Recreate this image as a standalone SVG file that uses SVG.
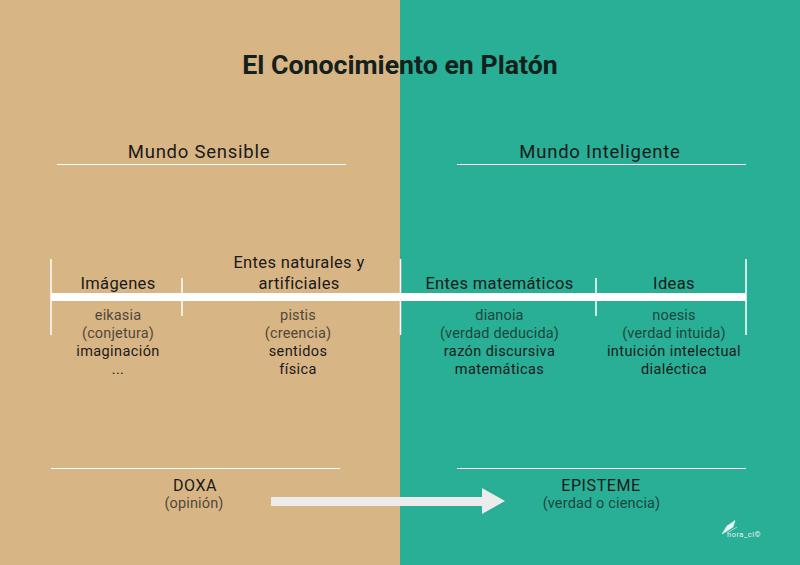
<svg xmlns="http://www.w3.org/2000/svg" width="800" height="565" viewBox="0 0 800 565">
<style>
text{font-family:"Roboto","Liberation Sans",sans-serif;text-anchor:middle;fill:#1a1a1a}
.t{font-size:26.700px;font-weight:700;fill:#14201c}
.h{font-size:18.500px;letter-spacing:.75px}
.c{font-size:16.500px;letter-spacing:.35px}
.s{font-size:14.500px;letter-spacing:.15px;opacity:.72}
.b{font-size:14.500px;letter-spacing:.4px}
.d{font-size:16px;letter-spacing:.6px}
.l{stroke:#fff;fill:none}
</style>
<rect id="left-panel" width="400" height="565" fill="#d8b585"/>
<rect id="right-panel" x="400" width="400" height="565" fill="#28af96"/>
<g id="title"><text class="t" x="400" y="74">El Conocimiento en Platón</text></g>
<g id="mundo-sensible"><text class="h" x="199" y="157.500">Mundo Sensible</text><line class="l" x1="57" y1="164.500" x2="346" y2="164.500"/></g>
<g id="mundo-inteligente"><text class="h" x="600" y="157.500">Mundo Inteligente</text><line class="l" x1="457" y1="164.500" x2="746" y2="164.500"/></g>
<g id="connectors">
<rect x="51" y="293" width="695" height="8" fill="#fff"/>
<line class="l" stroke-width="1.500" x1="51" y1="259" x2="51" y2="335"/>
<line class="l" stroke-width="1.500" x1="182" y1="278" x2="182" y2="316"/>
<line class="l" stroke-width="1.500" x1="400.500" y1="259" x2="400.500" y2="335"/>
<line class="l" stroke-width="1.500" x1="596" y1="278" x2="596" y2="316"/>
<line class="l" stroke-width="1.500" x1="746" y1="259" x2="746" y2="335"/>
<polygon points="271,497 482,497 482,488 505,501 482,514 482,506 271,506" fill="#ececec"/>
</g>
<g id="imagenes"><text class="c" x="118" y="288.500">Imágenes</text><text class="s" x="118" y="320">eikasia</text><text class="s" x="118" y="338">(conjetura)</text><text class="b" x="118" y="356">imaginación</text><text class="b" x="118" y="374">...</text></g>
<g id="entes-naturales"><text class="c" x="299" y="267.500">Entes naturales y</text><text class="c" x="299" y="288.500">artificiales</text><text class="s" x="298" y="320">pistis</text><text class="s" x="298" y="338">(creencia)</text><text class="b" x="298" y="356">sentidos</text><text class="b" x="298" y="374">física</text></g>
<g id="entes-matematicos"><text class="c" x="499.500" y="288.500">Entes matemáticos</text><text class="s" x="499.500" y="320">dianoia</text><text class="s" x="499.500" y="338">(verdad deducida)</text><text class="b" x="499.500" y="356">razón discursiva</text><text class="b" x="499.500" y="374">matemáticas</text></g>
<g id="ideas"><text class="c" x="674" y="288.500">Ideas</text><text class="s" x="674" y="320">noesis</text><text class="s" x="674" y="338">(verdad intuida)</text><text class="b" x="674" y="356">intuición intelectual</text><text class="b" x="674" y="374">dialéctica</text></g>
<g id="doxa"><line class="l" x1="51" y1="468.500" x2="340" y2="468.500"/><text class="d" x="195" y="491">DOXA</text><text class="s" x="194" y="508">(opinión)</text></g>
<g id="episteme"><line class="l" x1="457" y1="468.500" x2="746" y2="468.500"/><text class="d" x="601" y="491">EPISTEME</text><text class="s" x="601.500" y="508">(verdad o ciencia)</text></g>
<g id="firma"><path d="M722 534 L727 526 L733 522 L735 521 L733 527 L727 531 Z M727 533 L737 527 M733 522 L735 520" fill="#e8f5f1" stroke="#e8f5f1" stroke-width=".6"/><text x="744" y="537" font-size="7.500" letter-spacing=".5" style="fill:#e8f5f1">nora_cl©</text></g>
</svg>
